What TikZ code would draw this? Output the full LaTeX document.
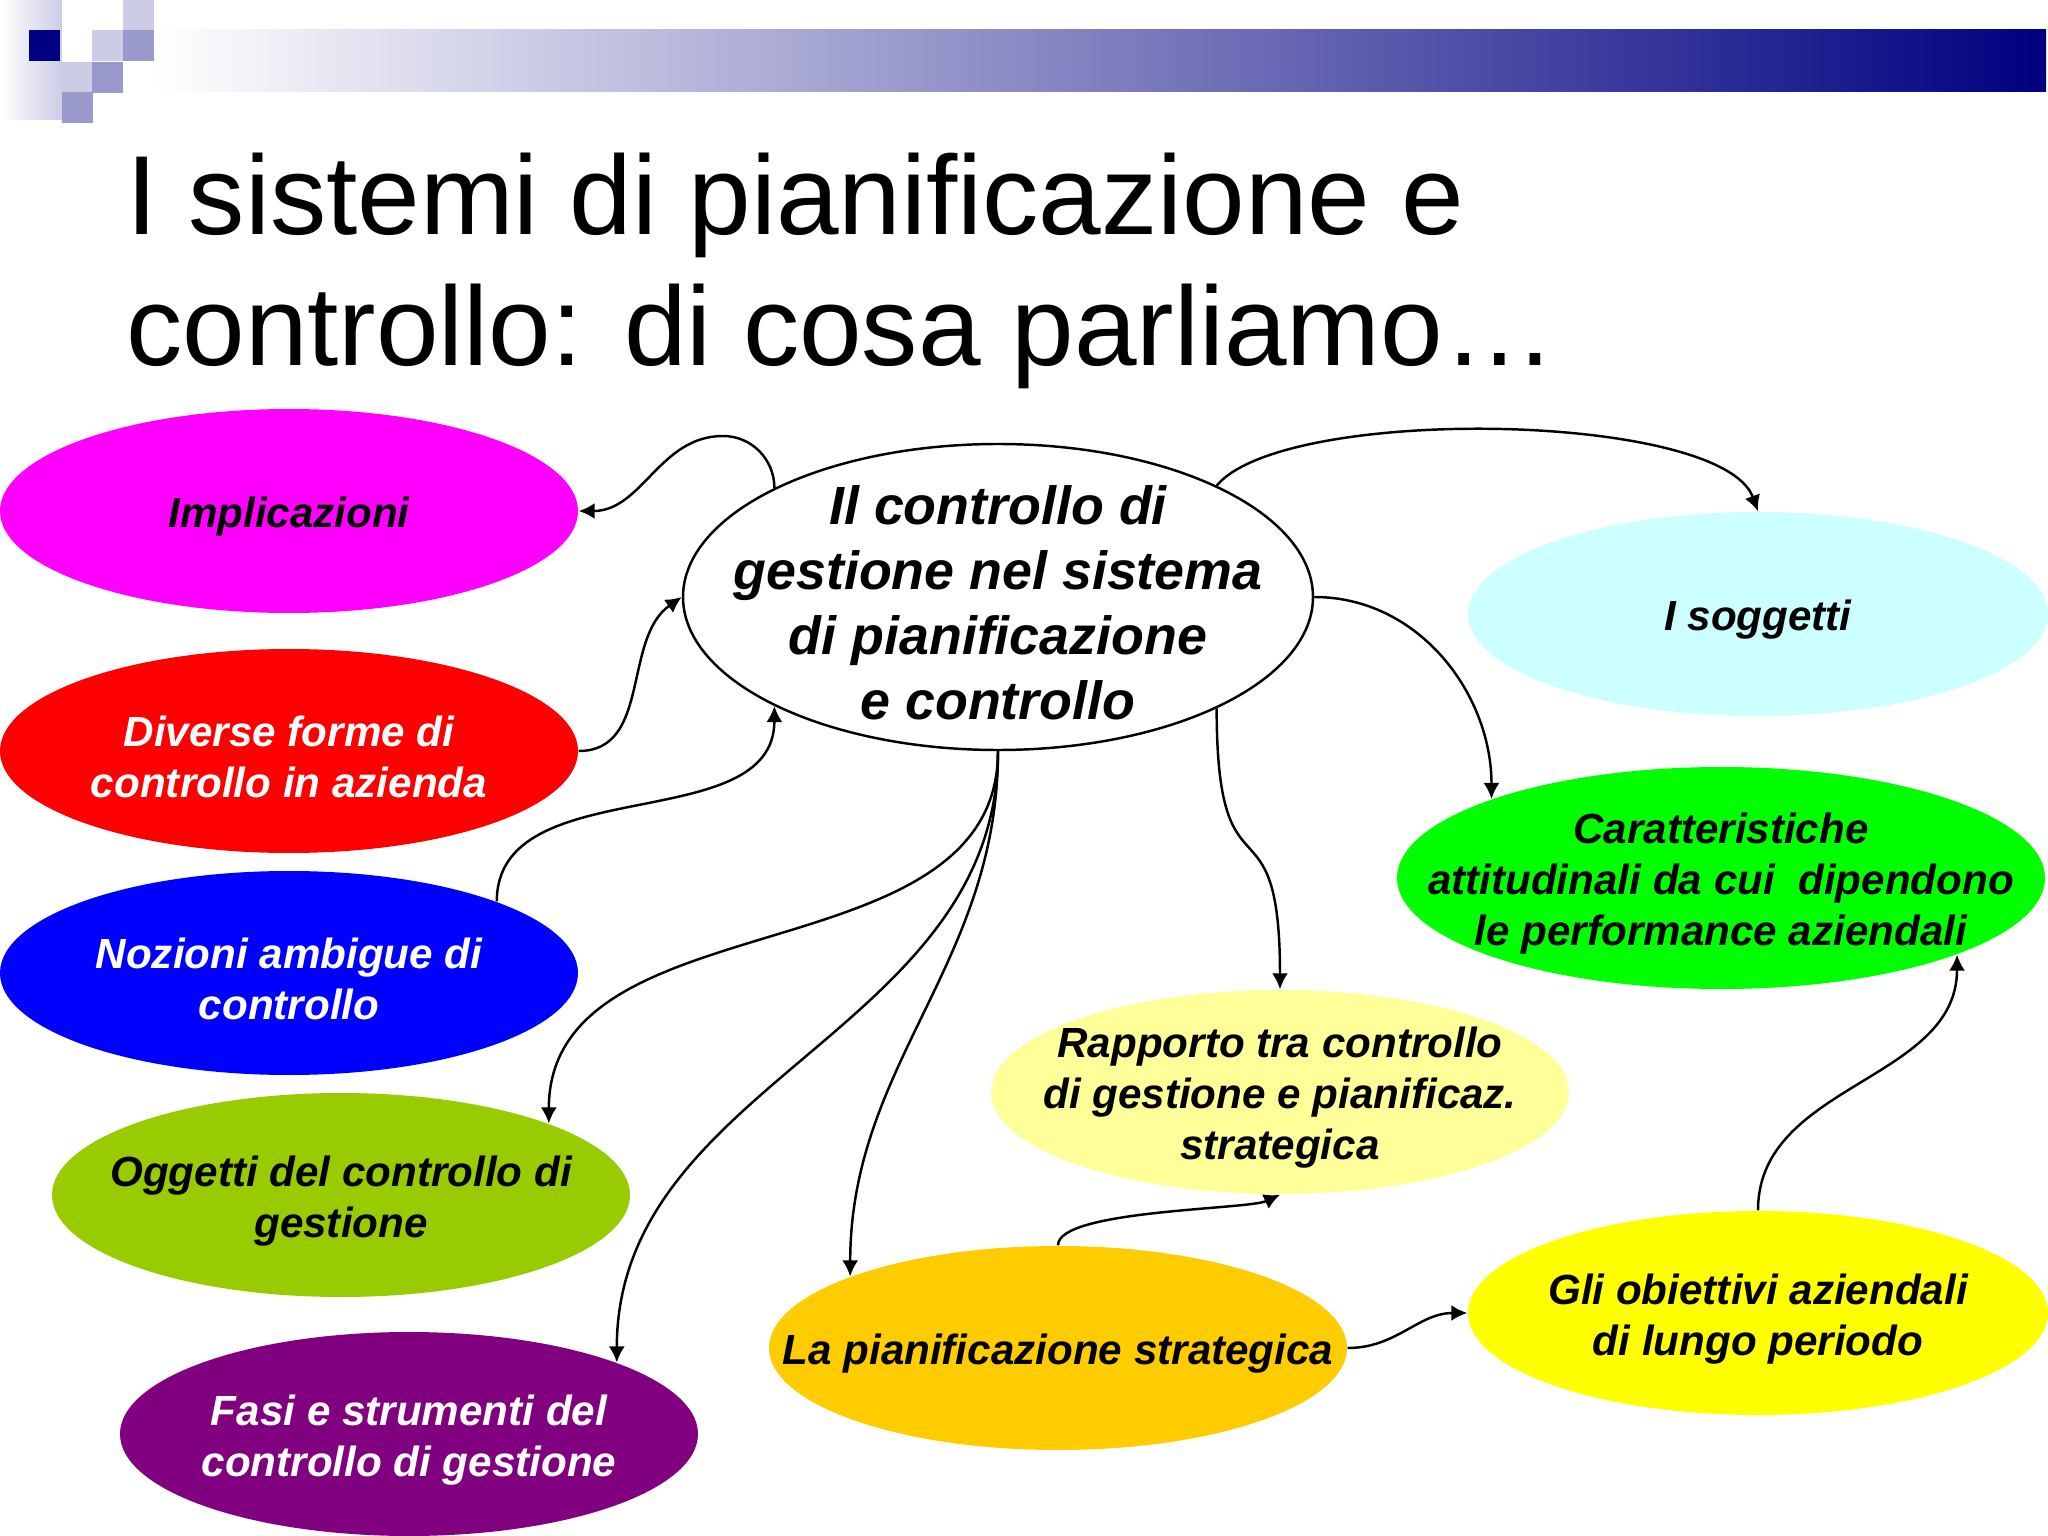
\documentclass[tikz,border=0pt]{standalone}
\usepackage{fontspec}
\setmainfont{Liberation Sans}
\usetikzlibrary{shapes.geometric,arrows.meta}
\definecolor{navy}{HTML}{000080}
\definecolor{lilac}{HTML}{9999CC}
\definecolor{palelilac}{HTML}{CCCCE6}
\definecolor{implcol}{HTML}{FF00FF}
\definecolor{oggcol}{HTML}{99CC00}
\definecolor{fasicol}{HTML}{800080}
\definecolor{soggcol}{HTML}{CCFFFF}
\definecolor{carcol}{HTML}{00FF00}
\definecolor{rappcol}{HTML}{FFFF99}
\definecolor{piancol}{HTML}{FFCC00}
\definecolor{obiecol}{HTML}{FFFF00}
\begin{document}
\begin{tikzpicture}[
	bubble/.style={ellipse, minimum width=5.78cm, minimum height=2.04cm, inner sep=0pt},
	txt/.style={font=\bfseries\itshape\fontsize{12}{14.5}\selectfont, align=center, yshift=-0.06cm},
	conn/.style={-{Latex[length=1.6mm,width=1.6mm]}, line width=0.7pt}]
				\useasboundingbox (0,0) rectangle (20.48,-15.36);
				\fill[left color=white, right color=palelilac] (0,0) rectangle (0.62,-1.2);
				\fill[left color=white, right color=navy] (1.54,-0.3) rectangle (20.46,-0.92);
				\foreach \x/\y/\c in {1.23/0/palelilac,0.29/-0.3/navy,0.92/-0.3/palelilac,1.23/-0.3/lilac,0.62/-0.62/palelilac,0.92/-0.62/lilac,0.62/-0.92/lilac}
					{\fill[\c] (\x,\y) rectangle ++(0.31,-0.31);}
				\node[anchor=base west, font=\fontsize{32}{37}\selectfont] (title1) at (1.14,-2.35) {I sistemi di pianificazione e};
				\node[anchor=base west, font=\fontsize{32}{37}\selectfont] (title2) at (1.14,-3.66) {controllo: di cosa parliamo…};
				\node[bubble, fill=implcol, label={[txt]center:Implicazioni}] (impl) at (2.89,-5.11) {};
				\node[bubble, fill=red, label={[txt, text=white]center:{Diverse forme di\\controllo in azienda}}] (diverse) at (2.89,-7.51) {};
				\node[bubble, fill=blue, label={[txt, text=white]center:{Nozioni ambigue di\\controllo}}] (nozioni) at (2.89,-9.73) {};
				\node[bubble, fill=oggcol, label={[txt]center:{Oggetti del controllo di\\gestione}}] (oggetti) at (3.41,-11.95) {};
				\node[bubble, fill=fasicol, label={[txt, text=white]center:{Fasi e strumenti del\\controllo di gestione}}] (fasi) at (4.09,-14.34) {};
				\node[bubble, draw, fill=white, line width=0.7pt, minimum width=6.3cm, minimum height=3.06cm,
					label={[txt, font=\bfseries\itshape\fontsize{15.3}{18.5}\selectfont]center:{Il controllo di\\gestione nel sistema\\di pianificazione\\e controllo}}] (ctrl) at (9.98,-5.97) {};
				\node[bubble, fill=soggcol, minimum width=5.8cm, label={[txt]center:I soggetti}] (soggetti) at (17.58,-6.14) {};
				\node[bubble, fill=carcol, minimum width=6.48cm, minimum height=2.22cm,
					label={[txt]center:{Caratteristiche\\attitudinali da cui\ \ dipendono\\le performance aziendali}}] (caratt) at (17.21,-8.78) {};
				\node[bubble, fill=rappcol, label={[txt]center:{Rapporto tra controllo\\di gestione e pianificaz.\\strategica}}] (rapporto) at (12.8,-10.92) {};
				\node[bubble, fill=piancol, label={[txt]center:La pianificazione strategica}] (pianif) at (10.58,-13.48) {};
				\node[bubble, fill=obiecol, minimum width=5.8cm, label={[txt]center:{Gli obiettivi aziendali\\di lungo periodo}}] (obiettivi) at (17.58,-13.13) {};
				\coordinate (implbend) at (7.23,-4.36);
				\draw[conn] (ctrl.154) to[out=90, in=0] (implbend) to[out=180, in=0] (impl.east);
				\draw[conn] (diverse.east) to[out=0, in=215] (ctrl.west);
				\draw[conn] (nozioni.19) to[out=90, in=-90] (ctrl.206);
				\draw[conn] (ctrl.south) to[out=-90, in=90] (oggetti.19);
				\draw[conn] (ctrl.south) to[out=-90, in=90] (fasi.19);
				\draw[conn] (ctrl.south) to[out=-90, in=90] (pianif.161);
				\draw[conn] (ctrl.333) to[out=-90, in=90, looseness=1.8] (rapporto.north);
				\draw[conn] (ctrl.east) to[out=0, in=90] (caratt.161);
				\draw[conn] (ctrl.27) to[out=50, in=110, looseness=0.5] (soggetti.north);
				\draw[conn] (pianif.north) to[out=90, in=205, looseness=0.4] (rapporto.south);
				\draw[conn] (pianif.east) to[out=0, in=180] (obiettivi.west);
				\draw[conn] (obiettivi.north) to[out=90, in=-90] (caratt.342);
				\end{tikzpicture}
\end{document}
